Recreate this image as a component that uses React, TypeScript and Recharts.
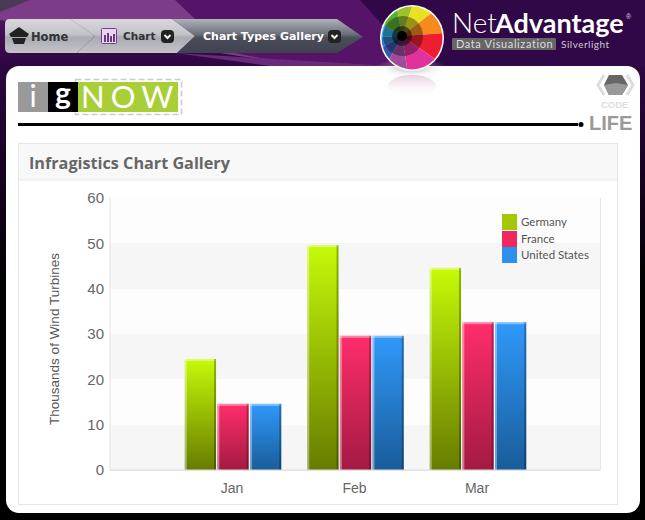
import { Bar, BarChart, CartesianGrid, Legend, XAxis, YAxis } from "recharts";

const months = ["Jan", "Feb", "Mar"];
const germany = [24.5, 49.6, 44.6];
const france = [14.6, 29.6, 32.6];
const unitedStates = [14.6, 29.6, 32.6];
const yTicks = [0, 10, 20, 30, 40, 50, 60];
const seriesNames = ["Germany", "France", "United States"];
const seriesKeys = ["germany", "france", "unitedStates"];
const gradientTops = ["#c6fa08", "#ff2d6b", "#3099fa"];
const gradientBottoms = ["#667c00", "#a31a42", "#195c9a"];
const swatchColors = ["#a4c800", "#f0285f", "#2c90ee"];
// logo wedges, clockwise from the top, with the angle each one ends at
const wheelColors = ["#9cc22c", "#e9e222", "#f68a1e", "#ee1e30", "#e0329a", "#a04c9c", "#3a55a8", "#2a7cc4", "#2cb0e8", "#5cb030"];
const wheelAngles = [-10, 19, 52, 86, 125, 171, 209, 241, 267, 301, 350];

const rows = months.map((month, i) => ({
  month,
  germany: germany[i],
  france: france[i],
  unitedStates: unitedStates[i],
}));

const sans = "'Liberation Sans', Arial, sans-serif";

function BevelBar(props: any) {
  const { x, y, width, height, fill } = props;
  return (
    <g>
      <rect x={x} y={y} width={width} height={height} fill={fill} />
      <rect x={x} y={y} width={2} height={height} fill="#fff" fillOpacity={0.4} />
      <rect x={x} y={y} width={width} height={2} fill="#fff" fillOpacity={0.4} />
      <rect x={x + width - 2} y={y} width={2} height={height} fill="#000" fillOpacity={0.28} />
    </g>
  );
}

function LegendBox({ payload }: any) {
  return (
    <div style={{ fontFamily: "Lato, sans-serif", fontSize: 11.5, color: "#555" }}>
      {(payload ?? []).map((item: any, i: number) => (
        <div key={item.value} style={{ display: "flex", alignItems: "center", height: 16.5 }}>
          <span style={{ width: 15, height: 16, marginRight: 4, background: swatchColors[i] }} />
          <span style={{ position: "relative", top: -0.5 }}>{item.value}</span>
        </div>
      ))}
    </div>
  );
}

function Wheel() {
  const cx = 402;
  const cy = 36;
  return (
    <g>
      <defs>
        <clipPath id="wheelClip">
          <ellipse cx={412} cy={38} rx={30.5} ry={31.5} />
        </clipPath>
        <linearGradient id="reflect" x1="0" y1="0" x2="0" y2="1">
          <stop offset="0" stopColor="#c9a0bd" stopOpacity={0.5} />
          <stop offset="1" stopColor="#fff" stopOpacity={0} />
        </linearGradient>
        <radialGradient id="shadow">
          <stop offset="0" stopColor="#777" stopOpacity={0.6} />
          <stop offset="1" stopColor="#fff" stopOpacity={0} />
        </radialGradient>
      </defs>
      <ellipse cx={411} cy={68} rx={36} ry={10} fill="url(#shadow)" />
      <ellipse cx={412} cy={86} rx={24} ry={11} fill="url(#reflect)" />
      <ellipse cx={412} cy={38} rx={32} ry={33} fill="#fff" />
      <g clipPath="url(#wheelClip)">
        {wheelColors.map((color, i) => {
          const a0 = (wheelAngles[i] * Math.PI) / 180;
          const a1 = (wheelAngles[i + 1] * Math.PI) / 180;
          const p = `${cx},${cy} ${cx + 90 * Math.sin(a0)},${cy - 90 * Math.cos(a0)} ${cx + 90 * Math.sin(a1)},${cy - 90 * Math.cos(a1)}`;
          return <polygon key={color} points={p} fill={color} />;
        })}
      </g>
      <circle cx={cx + 1} cy={cy} r={20} fill="#000" fillOpacity={0.35} />
      <circle cx={cx} cy={cy} r={10} fill="#000" fillOpacity={0.5} />
      <circle cx={cx} cy={cy} r={5} fill="#000" />
    </g>
  );
}

function Backdrop() {
  return (
    <svg width={645} height={520} style={{ position: "absolute", left: 0, top: 0 }}>
      <defs>
        <linearGradient id="sky" x1="0" y1="0" x2="0" y2="1">
          <stop offset="0" stopColor="#5a1668" />
          <stop offset="0.13" stopColor="#2c0640" />
          <stop offset="0.55" stopColor="#000" />
        </linearGradient>
        <linearGradient id="lightCrumb" x1="0" y1="0" x2="0" y2="1">
          <stop offset="0" stopColor="#d8d8dc" />
          <stop offset="0.45" stopColor="#c2c3c9" />
          <stop offset="0.55" stopColor="#a9abb2" />
          <stop offset="1" stopColor="#c4c5cb" />
        </linearGradient>
        <linearGradient id="darkCrumb" x1="0" y1="0" x2="0" y2="1">
          <stop offset="0" stopColor="#b0b2ba" />
          <stop offset="0.45" stopColor="#6c6f7a" />
          <stop offset="0.55" stopColor="#4b4e59" />
          <stop offset="1" stopColor="#3f4250" />
        </linearGradient>
      </defs>
      <rect width={645} height={520} fill="url(#sky)" />
      <polygon points="0,0 175,0 300,28 280,62 0,20" fill="#7c3c88" />
      <polygon points="175,0 360,0 420,66 300,66 230,52" fill="#561468" />
      <polygon points="360,0 645,0 645,66 420,66" fill="#300848" />
      <polygon points="175,53 390,66 270,66" fill="#6a2a7a" />
      <polygon points="0,0 30,0 0,12" fill="#4a3a58" />

      <path d="M10 19 H70 L95 36 L77 53 H10 Q5 53 5 48 V24 Q5 19 10 19 Z" fill="url(#lightCrumb)" />
      <polygon points="70,19 172,19 195,36 177,53 77,53 95,36" fill="url(#lightCrumb)" />
      <polygon points="172,19 337,19 363,37 337,53 177,53 195,36" fill="url(#darkCrumb)" />
      <polygon points="19,27 29,34 27,37 11,37 9,34" fill="#222" />
      <path d="M12 38 H26 L24 44 H14 Z" fill="#222" />
      <text x={31} y={41} fontFamily="'DejaVu Sans', sans-serif" fontWeight="bold" fontSize={11.5} fill="#333">Home</text>
      <rect x={101.5} y={28.5} width={15} height={15} rx={1} fill="#e6d8ea" stroke="#7a3a90" />
      <rect x={104} y={35} width={2} height={7} fill="#6a3a80" />
      <rect x={107} y={33} width={2} height={9} fill="#6a3a80" />
      <rect x={110} y={36} width={2} height={6} fill="#6a3a80" />
      <rect x={113} y={34} width={2} height={8} fill="#6a3a80" />
      <text x={123} y={40} fontFamily="'DejaVu Sans', sans-serif" fontWeight="bold" fontSize={10.5} fill="#333">Chart</text>
      <rect x={161} y={30} width={13} height={13} rx={4} fill="#222" />
      <polyline points="164.5,35 167.5,38 170.5,35" fill="none" stroke="#eee" strokeWidth={2} />
      <text x={203} y={40} fontFamily="'DejaVu Sans', sans-serif" fontWeight="bold" fontSize={11} fill="#fff">Chart Types Gallery</text>
      <rect x={328} y={30} width={13} height={13} rx={4} fill="#222" />
      <polyline points="331.5,35 334.5,38 337.5,35" fill="none" stroke="#eee" strokeWidth={2} />

      <rect x={6} y={66} width={634} height={447} rx={13} fill="#fff" />
      <Wheel />

      <text x={452} y={33} fontFamily="Lato, sans-serif" fontWeight={300} fontSize={28} fill="#fff">Net</text>
      <text x={495} y={33} fontFamily="Lato, sans-serif" fontWeight="bold" fontSize={27} fill="#fff">Advantage</text>
      <text x={626} y={19} fontFamily={sans} fontSize={7} fill="#ddd">®</text>
      <rect x={452} y={38} width={104} height={12} rx={1} fill="#666" />
      <text x={456} y={48} fontFamily="Lato, sans-serif" fontSize={11} letterSpacing={0.6} fill="#ddd">Data Visualization</text>
      <text x={561} y={48} fontFamily="Lato, sans-serif" fontSize={10} letterSpacing={0.5} fill="#ccc">Silverlight</text>

      <rect x={75.5} y={79.5} width={106} height={35} fill="none" stroke="#ccc" strokeWidth={1.5} strokeDasharray="6 3" />
      <rect x={18} y={82} width={30} height={30} fill="#999" />
      <rect x={48} y={82} width={30} height={30} fill="#000" />
      <rect x={78} y={82} width={100} height={30} fill="#a8cf38" />
      <text x={33} y={107} textAnchor="middle" fontFamily="Lato, sans-serif" fontSize={30} fill="#fff">i</text>
      <text x={63} y={104} textAnchor="middle" fontFamily="Lato, sans-serif" fontWeight="bold" fontSize={30} fill="#fff">g</text>
      <text x={81} y={108} fontFamily="Lato, sans-serif" fontSize={31} letterSpacing={6} fill="#fff">NOW</text>

      <rect x={18} y={123} width={560} height={3} fill="#000" />
      <circle cx={581} cy={124.5} r={2.5} fill="#000" />
      <text x={589} y={130} fontFamily={sans} fontWeight="bold" fontSize={20} fill="#999">LIFE</text>
      <text x={601} y={108} fontFamily={sans} fontWeight="bold" fontSize={9.5} fill="#ddd">CODE</text>
      <polyline points="604,75 598,85 604,95" fill="none" stroke="#ddd" strokeWidth={3} />
      <polyline points="627,75 633,85 627,95" fill="none" stroke="#ddd" strokeWidth={3} />
      <polygon points="609,75 622,75 628,85 622,95 609,95 604,85" fill="#666" />
      <polygon points="604,85 616,83 628,85 622,95 609,95" fill="#999" />

      <rect x={18.5} y={143.5} width={599} height={361} fill="#fff" stroke="#e6e6e6" />
      <rect x={19} y={144} width={598} height={36} fill="#f8f8f8" />
      <line x1={19} x2={617} y1={180} y2={180} stroke="#e6e6e6" />
      <text x={29} y={169} fontFamily="'Open Sans', sans-serif" fontWeight={700} fontSize={16.2} fill="#666">Infragistics Chart Gallery</text>
      <rect x={110.5} y={198.5} width={490} height={272} fill="#fdfdfd" stroke="#e8e8e8" />
    </svg>
  );
}

export default function App() {
  return (
    <div style={{ position: "absolute", left: 0, top: 0, width: 645, height: 520, overflow: "hidden" }}>
      <Backdrop />
      <div style={{ position: "absolute", left: 0, top: 0 }}>
        <BarChart
          width={645}
          height={520}
          data={rows}
          margin={{ top: 198, right: 45, bottom: 20, left: 60 }}
          barSize={31.3}
          barGap={1.3}
        >
          <defs>
            {seriesKeys.map((key, i) => (
              <linearGradient key={key} id={`fill-${key}`} x1="0" y1="0" x2="0" y2="1">
                <stop offset="0" stopColor={gradientTops[i]} />
                <stop offset="1" stopColor={gradientBottoms[i]} />
              </linearGradient>
            ))}
          </defs>
          <CartesianGrid vertical={false} stroke="none" horizontalFill={["#fdfdfd", "#f6f6f6"]} />
          <XAxis
            dataKey="month"
            height={30}
            padding={{ left: 61.75, right: 60.75 }}
            axisLine={{ stroke: "#dedede" }}
            tickLine={false}
            tick={{ fontFamily: sans, fontSize: 14, fill: "#666", dx: -1 }}
            tickMargin={7}
          />
          <YAxis
            width={50}
            domain={[0, 60]}
            ticks={yTicks}
            interval={0}
            axisLine={{ stroke: "#e4e4e4" }}
            tickLine={false}
            tick={{ fontFamily: sans, fontSize: 15, fill: "#666" }}
            tickMargin={0}
            label={{
              value: "Thousands of Wind Turbines",
              angle: -90,
              position: { x: -1, y: 141 },
              style: { fontFamily: sans, fontSize: 13.5, fill: "#555", textAnchor: "middle" },
            }}
          />
          <Legend
            layout="vertical"
            align="center"
            verticalAlign="middle"
            itemSorter={null}
            content={<LegendBox />}
            wrapperStyle={{ position: "absolute", left: 502, top: 214, width: 100, height: 50 }}
          />
          {seriesKeys.map((key, i) => (
            <Bar
              key={key}
              dataKey={key}
              name={seriesNames[i]}
              fill={`url(#fill-${key})`}
              shape={<BevelBar />}
              isAnimationActive={false}
            />
          ))}
        </BarChart>
      </div>
    </div>
  );
}
